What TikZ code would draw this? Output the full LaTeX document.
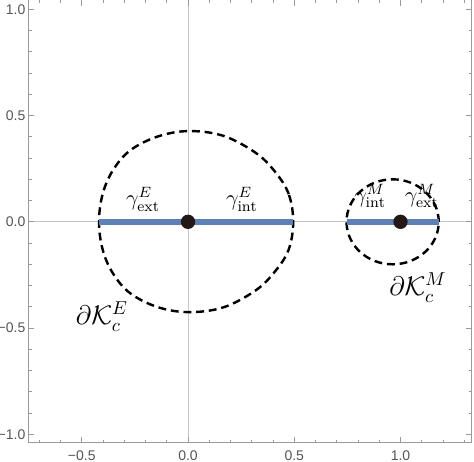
\documentclass[tikz,border=0pt]{standalone}
\usepackage{amsmath,amssymb}
\usepackage{fontspec}
\newfontfamily\ticksf{Liberation Sans}
\usetikzlibrary{positioning}
\definecolor{frmgray}{HTML}{9A9A9A}
\definecolor{axgray}{HTML}{C4C4C4}
\definecolor{lblgray}{HTML}{555555}
\definecolor{mblue}{HTML}{5E81B5}
\definecolor{dotblk}{HTML}{231815}

\begin{document}
\begin{tikzpicture}[x=4cm, y=4cm,
  branch/.style={mblue, line width=3.5pt},
  contour/.style={black, line width=1.3pt, dash pattern=on 4.2pt off 2.6pt},
  pole/.style={circle, fill=dotblk, inner sep=0pt, minimum size=0.27cm},
  frametick/.style={frmgray, line width=0.5pt},
  ticklbl/.style={text=lblgray, font=\ticksf\fontsize{7.5}{9}\selectfont, inner sep=0pt}]

% Picture area
\useasboundingbox (-0.885,-1.126) rectangle (1.346,1.044);

% Axes through the origin
\draw[axgray, line width=0.5pt] (-0.75,0) -- (1.335,0);
\draw[axgray, line width=0.5pt] (0,-1.04) -- (0,1.06);

% Frame (top edge lies outside the picture)
\draw[frmgray, line width=0.6pt] (-0.75,1.06) -- (-0.75,-1.04) -- (1.335,-1.04) -- (1.335,1.06);

% --- Ticks ---
\foreach \i in {-7,...,13}
  \draw[frametick] (\i/10,-1.04) -- ++(0,0.014) (\i/10,1.044) -- ++(0,-0.014);
\foreach \i in {-5,0,5,10}
  \draw[frametick] (\i/10,-1.04) -- ++(0,0.026) (\i/10,1.044) -- ++(0,-0.026);
\foreach \i in {-10,...,10}
  \draw[frametick] (-0.75,\i/10) -- ++(0.014,0) (1.335,\i/10) -- ++(-0.014,0);
\foreach \i in {-10,-5,0,5,10}
  \draw[frametick] (-0.75,\i/10) -- ++(0.026,0) (1.335,\i/10) -- ++(-0.026,0);

% Tick labels
\foreach \v/\t [count=\n] in {-0.5/−0.5, 0/0.0, 0.5/0.5, 1/1.0}
  \node[ticklbl, anchor=north] (xt\n) at (\v,-1.075) {\t};
\foreach \v/\t [count=\n] in {-1/−1.0, -0.5/−0.5, 0/0.0, 0.5/0.5, 1/1.0}
  \node[ticklbl, anchor=east] (yt\n) at (-0.764,\v) {\t};

% --- Contours ---
\draw[contour] plot[smooth cycle, tension=0.6] coordinates {
  (0.495,0) (0.474,0.13) (0.41,0.235) (0.318,0.325) (0.165,0.405) (0,0.427)
  (-0.147,0.40) (-0.275,0.334) (-0.355,0.24) (-0.402,0.13) (-0.419,0)
  (-0.402,-0.13) (-0.355,-0.24) (-0.275,-0.334) (-0.147,-0.40) (0,-0.425)
  (0.165,-0.403) (0.318,-0.323) (0.41,-0.233) (0.474,-0.13)};
\draw[contour] (0.963,0) ellipse [x radius=0.868cm, y radius=0.80cm];

% --- Branch cuts ---
\coordinate (Ea) at (-0.419,0);
\coordinate (Eb) at (0.495,0);
\coordinate (Ma) at (0.746,0);
\coordinate (Mb) at (1.180,0);
\draw[branch] (Ea) -- (Eb);
\draw[branch] (Ma) -- (Mb);

% Poles
\node[pole] (PE) at (0,0) {};
\node[pole] (PM) at (1,0) {};

% Labels
\node[font=\large] (gEext) at (-0.212,0.105) {$\gamma^E_{\mathrm{ext}}$};
\node[font=\large] (gEint) at (0.254,0.105) {$\gamma^E_{\mathrm{int}}$};
\node[font=\large] (gMint) at (0.857,0.122) {$\gamma^M_{\mathrm{int}}$};
\node[font=\large] (gMext) at (1.100,0.122) {$\gamma^M_{\mathrm{ext}}$};
\node[font=\Large] (KE) at (-0.405,-0.447) {$\partial\mathcal{K}_c^E$};
\node[font=\Large] (KM) at (1.082,-0.310) {$\partial\mathcal{K}_c^M$};

\end{tikzpicture}
\end{document}
